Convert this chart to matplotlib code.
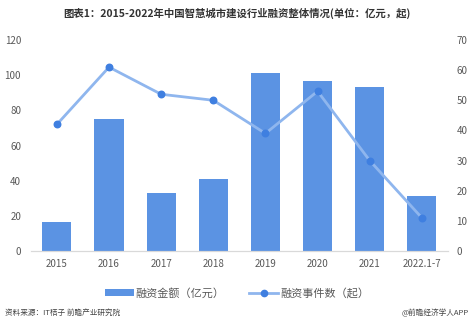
"""
2015-2022 China smart city financing overview: bar (amount) + line (event count).
"""
import matplotlib
matplotlib.use("Agg")
import matplotlib.pyplot as plt
from matplotlib.lines import Line2D
from matplotlib.patches import Patch
import numpy as np

plt.rcParams['font.family'] = ['Noto Sans CJK SC', 'DejaVu Sans']

YEARS = ['2015', '2016', '2017', '2018', '2019', '2020', '2021', '2022.1-7']
AMOUNT = [16.5, 75, 33, 41, 101, 96.5, 93, 31]      # 亿元
EVENTS = [42, 61, 52, 50, 39, 53, 30, 11]           # 起

BAR_COLOR = '#5b93e3'
LINE_COLOR = '#8fb6ee'
DOT_COLOR = '#3f7fe0'
TEXT_COLOR = '#595959'


def main():
    fig = plt.figure(figsize=(4.74, 3.24), dpi=100)
    ax = fig.add_axes([0.065, 0.2253, 0.88, 0.6512])
    ax2 = ax.twinx()

    x = np.arange(len(YEARS))
    ax.bar(x, AMOUNT, width=0.56, color=BAR_COLOR, zorder=2)
    ax2.plot(x, EVENTS, color=LINE_COLOR, linewidth=2, zorder=3)
    ax2.scatter(x, EVENTS, s=22, color=DOT_COLOR, zorder=4)

    ax.set_xlim(-0.5, len(YEARS) - 0.5)
    ax.set_ylim(0, 120)
    ax2.set_ylim(0, 70)
    ax.set_yticks(range(0, 121, 20))
    ax2.set_yticks(range(0, 71, 10))
    ax.set_xticks(x)
    ax.set_xticklabels(YEARS)

    for a in (ax, ax2):
        for side in ('top', 'left', 'right'):
            a.spines[side].set_visible(False)
        a.spines['bottom'].set_color('#d9d9d9')
        a.tick_params(length=0, labelsize=7, colors=TEXT_COLOR)
    ax.tick_params(axis='y', pad=7)
    ax2.tick_params(axis='y', pad=6)
    ax.tick_params(axis='x', pad=6)

    fig.text(0.5, 0.958, '图表1：2015-2022年中国智慧城市建设行业融资整体情况(单位：亿元，起)',
             ha='center', va='center', fontsize=7.5, fontweight='bold', color='#333333')

    handles = [
        Patch(facecolor=BAR_COLOR, label='融资金额（亿元）'),
        Line2D([0], [0], color=LINE_COLOR, linewidth=2, marker='o', markersize=4.5,
               markerfacecolor=DOT_COLOR, markeredgecolor=DOT_COLOR, label='融资事件数（起）'),
    ]
    fig.legend(handles=handles, loc='center', bbox_to_anchor=(0.5, 0.095), ncol=2,
               frameon=False, fontsize=8, labelcolor=TEXT_COLOR,
               handlelength=2.6, handleheight=0.6, columnspacing=2.2, handletextpad=0.2)

    fig.text(0.01, 0.035, '资料来源：IT桔子 前瞻产业研究院', ha='left', va='center',
             fontsize=5.5, color='#444444')
    fig.text(0.99, 0.035, '@前瞻经济学人APP', ha='right', va='center',
             fontsize=5.5, color='#444444')

    fig.savefig('out.png', dpi=100)


if __name__ == '__main__':
    main()
